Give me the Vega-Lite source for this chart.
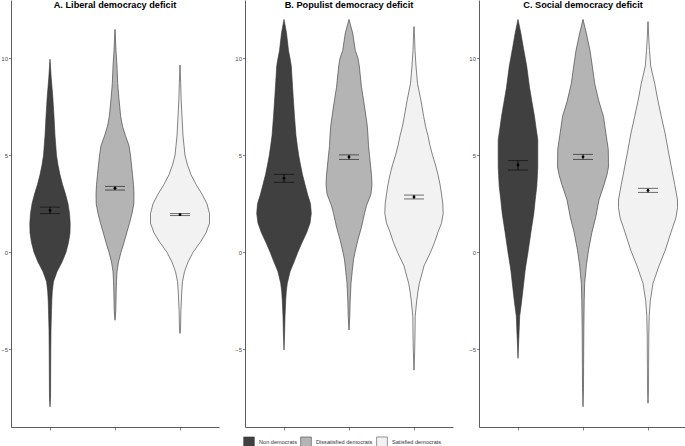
{
  "$schema": "https://vega.github.io/schema/vega-lite/v6.json",
  "background": "white",
  "padding": {"left": 0, "top": 0, "right": 0, "bottom": 0},
  "config": {
    "view": {"stroke": null},
    "font": "Liberation Sans",
    "axis": {"grid": false, "title": null, "domainColor": "#333333", "domainWidth": 0.8, "tickColor": "#333333", "tickWidth": 0.6, "tickSize": 2.5, "labelFontSize": 6, "labelColor": "#4d4d4d", "labelPadding": 1}
  },
  "spacing": 15,
  "datasets": {
    "violin": [
      {"panel":"A","group":"Non democrats","g":1,"v":-7.96,"d":0},{"panel":"A","group":"Non democrats","g":1,"v":-7.5,"d":0.5},{"panel":"A","group":"Non democrats","g":1,"v":-7,"d":0.6},{"panel":"A","group":"Non democrats","g":1,"v":-6,"d":0.7},{"panel":"A","group":"Non democrats","g":1,"v":-5,"d":0.8},{"panel":"A","group":"Non democrats","g":1,"v":-4,"d":1.0},{"panel":"A","group":"Non democrats","g":1,"v":-3,"d":1.5},{"panel":"A","group":"Non democrats","g":1,"v":-2.5,"d":1.8},{"panel":"A","group":"Non democrats","g":1,"v":-2,"d":2.3},{"panel":"A","group":"Non democrats","g":1,"v":-1.5,"d":3.5},{"panel":"A","group":"Non democrats","g":1,"v":-1,"d":7},{"panel":"A","group":"Non democrats","g":1,"v":-0.5,"d":12},{"panel":"A","group":"Non democrats","g":1,"v":0,"d":16},{"panel":"A","group":"Non democrats","g":1,"v":0.5,"d":18.5},{"panel":"A","group":"Non democrats","g":1,"v":1,"d":20},{"panel":"A","group":"Non democrats","g":1,"v":1.5,"d":20.2},{"panel":"A","group":"Non democrats","g":1,"v":2,"d":19.5},{"panel":"A","group":"Non democrats","g":1,"v":2.5,"d":18},{"panel":"A","group":"Non democrats","g":1,"v":3,"d":15.5},{"panel":"A","group":"Non democrats","g":1,"v":3.5,"d":12.5},{"panel":"A","group":"Non democrats","g":1,"v":4,"d":10},{"panel":"A","group":"Non democrats","g":1,"v":4.5,"d":8},{"panel":"A","group":"Non democrats","g":1,"v":5,"d":6.5},{"panel":"A","group":"Non democrats","g":1,"v":6,"d":5},{"panel":"A","group":"Non democrats","g":1,"v":7,"d":4},{"panel":"A","group":"Non democrats","g":1,"v":8,"d":2.8},{"panel":"A","group":"Non democrats","g":1,"v":8.5,"d":2},{"panel":"A","group":"Non democrats","g":1,"v":9,"d":1.2},{"panel":"A","group":"Non democrats","g":1,"v":9.5,"d":0.6},{"panel":"A","group":"Non democrats","g":1,"v":9.95,"d":0},
      {"panel":"A","group":"Dissatisfied democrats","g":2,"v":-3.5,"d":0},{"panel":"A","group":"Dissatisfied democrats","g":2,"v":-3,"d":0.8},{"panel":"A","group":"Dissatisfied democrats","g":2,"v":-2.5,"d":1},{"panel":"A","group":"Dissatisfied democrats","g":2,"v":-2,"d":1.2},{"panel":"A","group":"Dissatisfied democrats","g":2,"v":-1.5,"d":1.5},{"panel":"A","group":"Dissatisfied democrats","g":2,"v":-1,"d":2},{"panel":"A","group":"Dissatisfied democrats","g":2,"v":-0.5,"d":3.5},{"panel":"A","group":"Dissatisfied democrats","g":2,"v":0,"d":6},{"panel":"A","group":"Dissatisfied democrats","g":2,"v":0.5,"d":9},{"panel":"A","group":"Dissatisfied democrats","g":2,"v":1,"d":11.7},{"panel":"A","group":"Dissatisfied democrats","g":2,"v":1.5,"d":14.5},{"panel":"A","group":"Dissatisfied democrats","g":2,"v":2,"d":17},{"panel":"A","group":"Dissatisfied democrats","g":2,"v":2.5,"d":18.8},{"panel":"A","group":"Dissatisfied democrats","g":2,"v":3,"d":19},{"panel":"A","group":"Dissatisfied democrats","g":2,"v":3.5,"d":18.5},{"panel":"A","group":"Dissatisfied democrats","g":2,"v":4,"d":17.5},{"panel":"A","group":"Dissatisfied democrats","g":2,"v":4.5,"d":16.5},{"panel":"A","group":"Dissatisfied democrats","g":2,"v":5,"d":15.5},{"panel":"A","group":"Dissatisfied democrats","g":2,"v":5.5,"d":14},{"panel":"A","group":"Dissatisfied democrats","g":2,"v":6,"d":10.5},{"panel":"A","group":"Dissatisfied democrats","g":2,"v":6.5,"d":7.5},{"panel":"A","group":"Dissatisfied democrats","g":2,"v":7,"d":5.7},{"panel":"A","group":"Dissatisfied democrats","g":2,"v":8,"d":3.8},{"panel":"A","group":"Dissatisfied democrats","g":2,"v":8.7,"d":2.7},{"panel":"A","group":"Dissatisfied democrats","g":2,"v":9.6,"d":2},{"panel":"A","group":"Dissatisfied democrats","g":2,"v":10.4,"d":1},{"panel":"A","group":"Dissatisfied democrats","g":2,"v":11,"d":0.5},{"panel":"A","group":"Dissatisfied democrats","g":2,"v":11.49,"d":0},
      {"panel":"A","group":"Satisfied democrats","g":3,"v":-4.18,"d":0},{"panel":"A","group":"Satisfied democrats","g":3,"v":-4,"d":0.5},{"panel":"A","group":"Satisfied democrats","g":3,"v":-3,"d":0.9},{"panel":"A","group":"Satisfied democrats","g":3,"v":-2,"d":1.8},{"panel":"A","group":"Satisfied democrats","g":3,"v":-1.5,"d":2.5},{"panel":"A","group":"Satisfied democrats","g":3,"v":-1,"d":4.5},{"panel":"A","group":"Satisfied democrats","g":3,"v":-0.5,"d":8},{"panel":"A","group":"Satisfied democrats","g":3,"v":0,"d":13},{"panel":"A","group":"Satisfied democrats","g":3,"v":0.5,"d":20},{"panel":"A","group":"Satisfied democrats","g":3,"v":1,"d":26},{"panel":"A","group":"Satisfied democrats","g":3,"v":1.5,"d":29.5},{"panel":"A","group":"Satisfied democrats","g":3,"v":2,"d":29.5},{"panel":"A","group":"Satisfied democrats","g":3,"v":2.5,"d":27},{"panel":"A","group":"Satisfied democrats","g":3,"v":3,"d":22},{"panel":"A","group":"Satisfied democrats","g":3,"v":3.5,"d":16},{"panel":"A","group":"Satisfied democrats","g":3,"v":4,"d":11},{"panel":"A","group":"Satisfied democrats","g":3,"v":4.5,"d":7.5},{"panel":"A","group":"Satisfied democrats","g":3,"v":5,"d":5},{"panel":"A","group":"Satisfied democrats","g":3,"v":5.5,"d":4},{"panel":"A","group":"Satisfied democrats","g":3,"v":6,"d":3},{"panel":"A","group":"Satisfied democrats","g":3,"v":7,"d":2},{"panel":"A","group":"Satisfied democrats","g":3,"v":7.8,"d":1.2},{"panel":"A","group":"Satisfied democrats","g":3,"v":8.7,"d":0.7},{"panel":"A","group":"Satisfied democrats","g":3,"v":9.65,"d":0},
      {"panel":"B","group":"Non democrats","g":1,"v":-5.04,"d":0},{"panel":"B","group":"Non democrats","g":1,"v":-4.2,"d":0.6},{"panel":"B","group":"Non democrats","g":1,"v":-3.3,"d":1},{"panel":"B","group":"Non democrats","g":1,"v":-2.5,"d":1.7},{"panel":"B","group":"Non democrats","g":1,"v":-2,"d":2.3},{"panel":"B","group":"Non democrats","g":1,"v":-1.6,"d":3.3},{"panel":"B","group":"Non democrats","g":1,"v":-1,"d":6},{"panel":"B","group":"Non democrats","g":1,"v":-0.5,"d":10},{"panel":"B","group":"Non democrats","g":1,"v":0,"d":13.8},{"panel":"B","group":"Non democrats","g":1,"v":0.5,"d":18},{"panel":"B","group":"Non democrats","g":1,"v":1,"d":22.5},{"panel":"B","group":"Non democrats","g":1,"v":1.5,"d":26},{"panel":"B","group":"Non democrats","g":1,"v":2,"d":27.3},{"panel":"B","group":"Non democrats","g":1,"v":2.5,"d":26.5},{"panel":"B","group":"Non democrats","g":1,"v":3,"d":23.5},{"panel":"B","group":"Non democrats","g":1,"v":3.5,"d":21},{"panel":"B","group":"Non democrats","g":1,"v":4,"d":18.5},{"panel":"B","group":"Non democrats","g":1,"v":4.5,"d":16.5},{"panel":"B","group":"Non democrats","g":1,"v":5,"d":14.7},{"panel":"B","group":"Non democrats","g":1,"v":5.5,"d":13.3},{"panel":"B","group":"Non democrats","g":1,"v":6,"d":12},{"panel":"B","group":"Non democrats","g":1,"v":7,"d":10.5},{"panel":"B","group":"Non democrats","g":1,"v":8,"d":9.2},{"panel":"B","group":"Non democrats","g":1,"v":9,"d":8},{"panel":"B","group":"Non democrats","g":1,"v":9.6,"d":7.3},{"panel":"B","group":"Non democrats","g":1,"v":10,"d":6},{"panel":"B","group":"Non democrats","g":1,"v":10.4,"d":4.5},{"panel":"B","group":"Non democrats","g":1,"v":11.3,"d":2.5},{"panel":"B","group":"Non democrats","g":1,"v":12,"d":0},
      {"panel":"B","group":"Dissatisfied democrats","g":2,"v":-4,"d":0},{"panel":"B","group":"Dissatisfied democrats","g":2,"v":-3.3,"d":0.8},{"panel":"B","group":"Dissatisfied democrats","g":2,"v":-2.5,"d":1.2},{"panel":"B","group":"Dissatisfied democrats","g":2,"v":-1.6,"d":2},{"panel":"B","group":"Dissatisfied democrats","g":2,"v":-1,"d":3.2},{"panel":"B","group":"Dissatisfied democrats","g":2,"v":-0.4,"d":4.5},{"panel":"B","group":"Dissatisfied democrats","g":2,"v":0,"d":6},{"panel":"B","group":"Dissatisfied democrats","g":2,"v":0.6,"d":8.7},{"panel":"B","group":"Dissatisfied democrats","g":2,"v":1.3,"d":12.5},{"panel":"B","group":"Dissatisfied democrats","g":2,"v":2,"d":15.5},{"panel":"B","group":"Dissatisfied democrats","g":2,"v":2.4,"d":17.5},{"panel":"B","group":"Dissatisfied democrats","g":2,"v":3,"d":22},{"panel":"B","group":"Dissatisfied democrats","g":2,"v":3.5,"d":23},{"panel":"B","group":"Dissatisfied democrats","g":2,"v":4,"d":22.5},{"panel":"B","group":"Dissatisfied democrats","g":2,"v":4.5,"d":21.5},{"panel":"B","group":"Dissatisfied democrats","g":2,"v":5,"d":20.5},{"panel":"B","group":"Dissatisfied democrats","g":2,"v":5.5,"d":19.5},{"panel":"B","group":"Dissatisfied democrats","g":2,"v":6,"d":19},{"panel":"B","group":"Dissatisfied democrats","g":2,"v":6.5,"d":18.3},{"panel":"B","group":"Dissatisfied democrats","g":2,"v":7,"d":17},{"panel":"B","group":"Dissatisfied democrats","g":2,"v":7.8,"d":14.7},{"panel":"B","group":"Dissatisfied democrats","g":2,"v":8.5,"d":12.5},{"panel":"B","group":"Dissatisfied democrats","g":2,"v":9.6,"d":10.3},{"panel":"B","group":"Dissatisfied democrats","g":2,"v":10,"d":9},{"panel":"B","group":"Dissatisfied democrats","g":2,"v":10.4,"d":6.3},{"panel":"B","group":"Dissatisfied democrats","g":2,"v":11.3,"d":3.7},{"panel":"B","group":"Dissatisfied democrats","g":2,"v":12,"d":0},
      {"panel":"B","group":"Satisfied democrats","g":3,"v":-6.07,"d":0},{"panel":"B","group":"Satisfied democrats","g":3,"v":-5.04,"d":0.7},{"panel":"B","group":"Satisfied democrats","g":3,"v":-4.2,"d":1},{"panel":"B","group":"Satisfied democrats","g":3,"v":-3.3,"d":1.2},{"panel":"B","group":"Satisfied democrats","g":3,"v":-2.5,"d":2.7},{"panel":"B","group":"Satisfied democrats","g":3,"v":-2,"d":4},{"panel":"B","group":"Satisfied democrats","g":3,"v":-1.6,"d":5.3},{"panel":"B","group":"Satisfied democrats","g":3,"v":-1,"d":8.5},{"panel":"B","group":"Satisfied democrats","g":3,"v":-0.7,"d":10},{"panel":"B","group":"Satisfied democrats","g":3,"v":0,"d":16.5},{"panel":"B","group":"Satisfied democrats","g":3,"v":0.5,"d":20.5},{"panel":"B","group":"Satisfied democrats","g":3,"v":1,"d":23.7},{"panel":"B","group":"Satisfied democrats","g":3,"v":1.5,"d":27.5},{"panel":"B","group":"Satisfied democrats","g":3,"v":2,"d":29.2},{"panel":"B","group":"Satisfied democrats","g":3,"v":2.5,"d":28.8},{"panel":"B","group":"Satisfied democrats","g":3,"v":3,"d":27.5},{"panel":"B","group":"Satisfied democrats","g":3,"v":3.5,"d":26},{"panel":"B","group":"Satisfied democrats","g":3,"v":4,"d":24},{"panel":"B","group":"Satisfied democrats","g":3,"v":4.5,"d":21.5},{"panel":"B","group":"Satisfied democrats","g":3,"v":5,"d":18.5},{"panel":"B","group":"Satisfied democrats","g":3,"v":5.5,"d":16},{"panel":"B","group":"Satisfied democrats","g":3,"v":6,"d":14},{"panel":"B","group":"Satisfied democrats","g":3,"v":6.5,"d":11.5},{"panel":"B","group":"Satisfied democrats","g":3,"v":7,"d":9.7},{"panel":"B","group":"Satisfied democrats","g":3,"v":7.8,"d":7},{"panel":"B","group":"Satisfied democrats","g":3,"v":8.7,"d":3.5},{"panel":"B","group":"Satisfied democrats","g":3,"v":9.6,"d":2},{"panel":"B","group":"Satisfied democrats","g":3,"v":10.4,"d":1},{"panel":"B","group":"Satisfied democrats","g":3,"v":11,"d":0.6},{"panel":"B","group":"Satisfied democrats","g":3,"v":11.63,"d":0},
      {"panel":"C","group":"Non democrats","g":1,"v":-5.46,"d":0},{"panel":"C","group":"Non democrats","g":1,"v":-4.2,"d":1},{"panel":"C","group":"Non democrats","g":1,"v":-3.3,"d":1.7},{"panel":"C","group":"Non democrats","g":1,"v":-2.5,"d":3.7},{"panel":"C","group":"Non democrats","g":1,"v":-2,"d":4.8},{"panel":"C","group":"Non democrats","g":1,"v":-1,"d":7},{"panel":"C","group":"Non democrats","g":1,"v":-0.7,"d":7.8},{"panel":"C","group":"Non democrats","g":1,"v":0,"d":10},{"panel":"C","group":"Non democrats","g":1,"v":1,"d":12.8},{"panel":"C","group":"Non democrats","g":1,"v":2,"d":15.8},{"panel":"C","group":"Non democrats","g":1,"v":2.7,"d":17.2},{"panel":"C","group":"Non democrats","g":1,"v":3.4,"d":18.8},{"panel":"C","group":"Non democrats","g":1,"v":4.4,"d":19.8},{"panel":"C","group":"Non democrats","g":1,"v":5.8,"d":19.8},{"panel":"C","group":"Non democrats","g":1,"v":6.5,"d":17.8},{"panel":"C","group":"Non democrats","g":1,"v":7,"d":16.5},{"panel":"C","group":"Non democrats","g":1,"v":7.8,"d":13.8},{"panel":"C","group":"Non democrats","g":1,"v":8.5,"d":11.5},{"panel":"C","group":"Non democrats","g":1,"v":9.6,"d":8.7},{"panel":"C","group":"Non democrats","g":1,"v":10.5,"d":5.5},{"panel":"C","group":"Non democrats","g":1,"v":11.3,"d":2.8},{"panel":"C","group":"Non democrats","g":1,"v":12,"d":0},
      {"panel":"C","group":"Dissatisfied democrats","g":2,"v":-7.96,"d":0},{"panel":"C","group":"Dissatisfied democrats","g":2,"v":-7,"d":0.5},{"panel":"C","group":"Dissatisfied democrats","g":2,"v":-5.9,"d":0.6},{"panel":"C","group":"Dissatisfied democrats","g":2,"v":-4.2,"d":0.8},{"panel":"C","group":"Dissatisfied democrats","g":2,"v":-2.5,"d":1.2},{"panel":"C","group":"Dissatisfied democrats","g":2,"v":-1.6,"d":1.7},{"panel":"C","group":"Dissatisfied democrats","g":2,"v":-0.7,"d":3.3},{"panel":"C","group":"Dissatisfied democrats","g":2,"v":0.1,"d":5.5},{"panel":"C","group":"Dissatisfied democrats","g":2,"v":1,"d":8.8},{"panel":"C","group":"Dissatisfied democrats","g":2,"v":1.8,"d":12.7},{"panel":"C","group":"Dissatisfied democrats","g":2,"v":2.7,"d":16},{"panel":"C","group":"Dissatisfied democrats","g":2,"v":3.5,"d":21.2},{"panel":"C","group":"Dissatisfied democrats","g":2,"v":4,"d":24},{"panel":"C","group":"Dissatisfied democrats","g":2,"v":4.4,"d":25.5},{"panel":"C","group":"Dissatisfied democrats","g":2,"v":5.3,"d":25.3},{"panel":"C","group":"Dissatisfied democrats","g":2,"v":6.1,"d":23},{"panel":"C","group":"Dissatisfied democrats","g":2,"v":7,"d":20.5},{"panel":"C","group":"Dissatisfied democrats","g":2,"v":7.8,"d":15.8},{"panel":"C","group":"Dissatisfied democrats","g":2,"v":8.7,"d":11.7},{"panel":"C","group":"Dissatisfied democrats","g":2,"v":9.6,"d":9.3},{"panel":"C","group":"Dissatisfied democrats","g":2,"v":10.4,"d":7},{"panel":"C","group":"Dissatisfied democrats","g":2,"v":11.3,"d":3.3},{"panel":"C","group":"Dissatisfied democrats","g":2,"v":12,"d":0},
      {"panel":"C","group":"Satisfied democrats","g":3,"v":-7.78,"d":0},{"panel":"C","group":"Satisfied democrats","g":3,"v":-7,"d":0.5},{"panel":"C","group":"Satisfied democrats","g":3,"v":-5.9,"d":0.6},{"panel":"C","group":"Satisfied democrats","g":3,"v":-4.2,"d":0.8},{"panel":"C","group":"Satisfied democrats","g":3,"v":-3.3,"d":1.2},{"panel":"C","group":"Satisfied democrats","g":3,"v":-2.5,"d":2.3},{"panel":"C","group":"Satisfied democrats","g":3,"v":-1.6,"d":5},{"panel":"C","group":"Satisfied democrats","g":3,"v":-0.7,"d":11},{"panel":"C","group":"Satisfied democrats","g":3,"v":0.1,"d":17.2},{"panel":"C","group":"Satisfied democrats","g":3,"v":1,"d":22.8},{"panel":"C","group":"Satisfied democrats","g":3,"v":1.8,"d":28},{"panel":"C","group":"Satisfied democrats","g":3,"v":2.3,"d":29.5},{"panel":"C","group":"Satisfied democrats","g":3,"v":2.7,"d":29.5},{"panel":"C","group":"Satisfied democrats","g":3,"v":3.5,"d":26.7},{"panel":"C","group":"Satisfied democrats","g":3,"v":4.4,"d":23.3},{"panel":"C","group":"Satisfied democrats","g":3,"v":5.3,"d":20},{"panel":"C","group":"Satisfied democrats","g":3,"v":6.1,"d":17.2},{"panel":"C","group":"Satisfied democrats","g":3,"v":7,"d":13.3},{"panel":"C","group":"Satisfied democrats","g":3,"v":7.8,"d":10},{"panel":"C","group":"Satisfied democrats","g":3,"v":8.7,"d":6.7},{"panel":"C","group":"Satisfied democrats","g":3,"v":9.6,"d":2.7},{"panel":"C","group":"Satisfied democrats","g":3,"v":10.4,"d":1.5},{"panel":"C","group":"Satisfied democrats","g":3,"v":11,"d":0.8},{"panel":"C","group":"Satisfied democrats","g":3,"v":11.89,"d":0}
    ],
    "stats": [
      {"panel":"A","g":1,"mean":2.16,"lo":1.99,"hi":2.33},
      {"panel":"A","g":2,"mean":3.30,"lo":3.21,"hi":3.40},
      {"panel":"A","g":3,"mean":1.94,"lo":1.89,"hi":1.99},
      {"panel":"B","g":1,"mean":3.81,"lo":3.61,"hi":4.02},
      {"panel":"B","g":2,"mean":4.91,"lo":4.79,"hi":5.02},
      {"panel":"B","g":3,"mean":2.85,"lo":2.75,"hi":2.95},
      {"panel":"C","g":1,"mean":4.50,"lo":4.24,"hi":4.72},
      {"panel":"C","g":2,"mean":4.92,"lo":4.79,"hi":5.05},
      {"panel":"C","g":3,"mean":3.19,"lo":3.09,"hi":3.30}
    ],
    "titles": [
      {"panel":"A","title":"A. Liberal democracy deficit"},
      {"panel":"B","title":"B. Populist democracy deficit"},
      {"panel":"C","title":"C. Social democracy deficit"}
    ]
  },
  "hconcat": [
    {
      "width": 208, "height": 427,
      "layer": [
        {"data": {"name": "violin"}, "transform": [{"filter": "datum.panel === 'A'"}, {"calculate": "datum.g - datum.d / 65", "as": "xlo"}, {"calculate": "datum.g + datum.d / 65", "as": "xhi"}],
         "mark": {"type": "area", "orient": "horizontal", "stroke": "#333333", "strokeWidth": 0.6, "opacity": 1},
         "encoding": {
           "y": {"field": "v", "type": "quantitative", "scale": {"domain": [-9, 13], "nice": false, "zero": false}, "axis": {"values": [-5, 0, 5, 10]}},
           "x": {"field": "xlo", "type": "quantitative", "scale": {"domain": [0.4, 3.6], "nice": false, "zero": false}, "axis": {"values": [1, 2, 3], "labels": false, "tickSize": 3}},
           "x2": {"field": "xhi"},
           "color": {"field": "group", "type": "nominal", "scale": {"domain": ["Non democrats", "Dissatisfied democrats", "Satisfied democrats"], "range": ["#404040", "#b4b4b4", "#f2f2f2"]},
             "legend": {"orient": "none", "legendX": 232, "legendY": 436, "title": null, "direction": "horizontal", "symbolType": "square", "symbolSize": 115, "symbolStrokeColor": "#333333", "symbolStrokeWidth": 0.5, "symbolOpacity": 1, "labelFontSize": 5.6, "labelColor": "#333333", "columnPadding": 2, "labelOffset": 4}}
         }},
        {"data": {"name": "stats"}, "transform": [{"filter": "datum.panel === 'A'"}], "mark": {"type": "rule", "color": "#000000", "strokeWidth": 0.8}, "encoding": {"x": {"field": "g", "type": "quantitative"}, "y": {"field": "lo", "type": "quantitative"}, "y2": {"field": "hi"}}},
        {"data": {"name": "stats"}, "transform": [{"filter": "datum.panel === 'A'"}], "mark": {"type": "tick", "orient": "horizontal", "color": "#000000", "size": 20, "thickness": 0.8}, "encoding": {"x": {"field": "g", "type": "quantitative"}, "y": {"field": "lo", "type": "quantitative"}}},
        {"data": {"name": "stats"}, "transform": [{"filter": "datum.panel === 'A'"}], "mark": {"type": "tick", "orient": "horizontal", "color": "#000000", "size": 20, "thickness": 0.8}, "encoding": {"x": {"field": "g", "type": "quantitative"}, "y": {"field": "hi", "type": "quantitative"}}},
        {"data": {"name": "stats"}, "transform": [{"filter": "datum.panel === 'A'"}], "mark": {"type": "point", "filled": true, "color": "#000000", "size": 8, "opacity": 1}, "encoding": {"x": {"field": "g", "type": "quantitative"}, "y": {"field": "mean", "type": "quantitative"}}},
        {"data": {"name": "titles"}, "transform": [{"filter": "datum.panel === 'A'"}], "mark": {"type": "text", "fontWeight": "bold", "fontSize": 9.2, "baseline": "top", "align": "center", "dy": 0.5, "color": "#000000"}, "encoding": {"x": {"datum": 2, "type": "quantitative"}, "y": {"datum": 13, "type": "quantitative"}, "text": {"field": "title"}}}
      ]
    },
    {
      "width": 208, "height": 427,
      "layer": [
        {"data": {"name": "violin"}, "transform": [{"filter": "datum.panel === 'B'"}, {"calculate": "datum.g - datum.d / 65", "as": "xlo"}, {"calculate": "datum.g + datum.d / 65", "as": "xhi"}],
         "mark": {"type": "area", "orient": "horizontal", "stroke": "#333333", "strokeWidth": 0.6, "opacity": 1},
         "encoding": {
           "y": {"field": "v", "type": "quantitative", "scale": {"domain": [-9, 13], "nice": false, "zero": false}, "axis": {"values": [-5, 0, 5, 10]}},
           "x": {"field": "xlo", "type": "quantitative", "scale": {"domain": [0.4, 3.6], "nice": false, "zero": false}, "axis": {"values": [1, 2, 3], "labels": false, "tickSize": 3}},
           "x2": {"field": "xhi"},
           "color": {"field": "group", "type": "nominal"}
         }},
        {"data": {"name": "stats"}, "transform": [{"filter": "datum.panel === 'B'"}], "mark": {"type": "rule", "color": "#000000", "strokeWidth": 0.8}, "encoding": {"x": {"field": "g", "type": "quantitative"}, "y": {"field": "lo", "type": "quantitative"}, "y2": {"field": "hi"}}},
        {"data": {"name": "stats"}, "transform": [{"filter": "datum.panel === 'B'"}], "mark": {"type": "tick", "orient": "horizontal", "color": "#000000", "size": 20, "thickness": 0.8}, "encoding": {"x": {"field": "g", "type": "quantitative"}, "y": {"field": "lo", "type": "quantitative"}}},
        {"data": {"name": "stats"}, "transform": [{"filter": "datum.panel === 'B'"}], "mark": {"type": "tick", "orient": "horizontal", "color": "#000000", "size": 20, "thickness": 0.8}, "encoding": {"x": {"field": "g", "type": "quantitative"}, "y": {"field": "hi", "type": "quantitative"}}},
        {"data": {"name": "stats"}, "transform": [{"filter": "datum.panel === 'B'"}], "mark": {"type": "point", "filled": true, "color": "#000000", "size": 8, "opacity": 1}, "encoding": {"x": {"field": "g", "type": "quantitative"}, "y": {"field": "mean", "type": "quantitative"}}},
        {"data": {"name": "titles"}, "transform": [{"filter": "datum.panel === 'B'"}], "mark": {"type": "text", "fontWeight": "bold", "fontSize": 9.2, "baseline": "top", "align": "center", "dy": 0.5, "color": "#000000"}, "encoding": {"x": {"datum": 2, "type": "quantitative"}, "y": {"datum": 13, "type": "quantitative"}, "text": {"field": "title"}}}
      ]
    },
    {
      "width": 208, "height": 427,
      "layer": [
        {"data": {"name": "violin"}, "transform": [{"filter": "datum.panel === 'C'"}, {"calculate": "datum.g - datum.d / 65", "as": "xlo"}, {"calculate": "datum.g + datum.d / 65", "as": "xhi"}],
         "mark": {"type": "area", "orient": "horizontal", "stroke": "#333333", "strokeWidth": 0.6, "opacity": 1},
         "encoding": {
           "y": {"field": "v", "type": "quantitative", "scale": {"domain": [-9, 13], "nice": false, "zero": false}, "axis": {"values": [-5, 0, 5, 10]}},
           "x": {"field": "xlo", "type": "quantitative", "scale": {"domain": [0.4, 3.6], "nice": false, "zero": false}, "axis": {"values": [1, 2, 3], "labels": false, "tickSize": 3}},
           "x2": {"field": "xhi"},
           "color": {"field": "group", "type": "nominal"}
         }},
        {"data": {"name": "stats"}, "transform": [{"filter": "datum.panel === 'C'"}], "mark": {"type": "rule", "color": "#000000", "strokeWidth": 0.8}, "encoding": {"x": {"field": "g", "type": "quantitative"}, "y": {"field": "lo", "type": "quantitative"}, "y2": {"field": "hi"}}},
        {"data": {"name": "stats"}, "transform": [{"filter": "datum.panel === 'C'"}], "mark": {"type": "tick", "orient": "horizontal", "color": "#000000", "size": 20, "thickness": 0.8}, "encoding": {"x": {"field": "g", "type": "quantitative"}, "y": {"field": "lo", "type": "quantitative"}}},
        {"data": {"name": "stats"}, "transform": [{"filter": "datum.panel === 'C'"}], "mark": {"type": "tick", "orient": "horizontal", "color": "#000000", "size": 20, "thickness": 0.8}, "encoding": {"x": {"field": "g", "type": "quantitative"}, "y": {"field": "hi", "type": "quantitative"}}},
        {"data": {"name": "stats"}, "transform": [{"filter": "datum.panel === 'C'"}], "mark": {"type": "point", "filled": true, "color": "#000000", "size": 8, "opacity": 1}, "encoding": {"x": {"field": "g", "type": "quantitative"}, "y": {"field": "mean", "type": "quantitative"}}},
        {"data": {"name": "titles"}, "transform": [{"filter": "datum.panel === 'C'"}], "mark": {"type": "text", "fontWeight": "bold", "fontSize": 9.2, "baseline": "top", "align": "center", "dy": 0.5, "color": "#000000"}, "encoding": {"x": {"datum": 2, "type": "quantitative"}, "y": {"datum": 13, "type": "quantitative"}, "text": {"field": "title"}}}
      ]
    }
  ],
  "resolve": {"scale": {"color": "shared"}}
}
